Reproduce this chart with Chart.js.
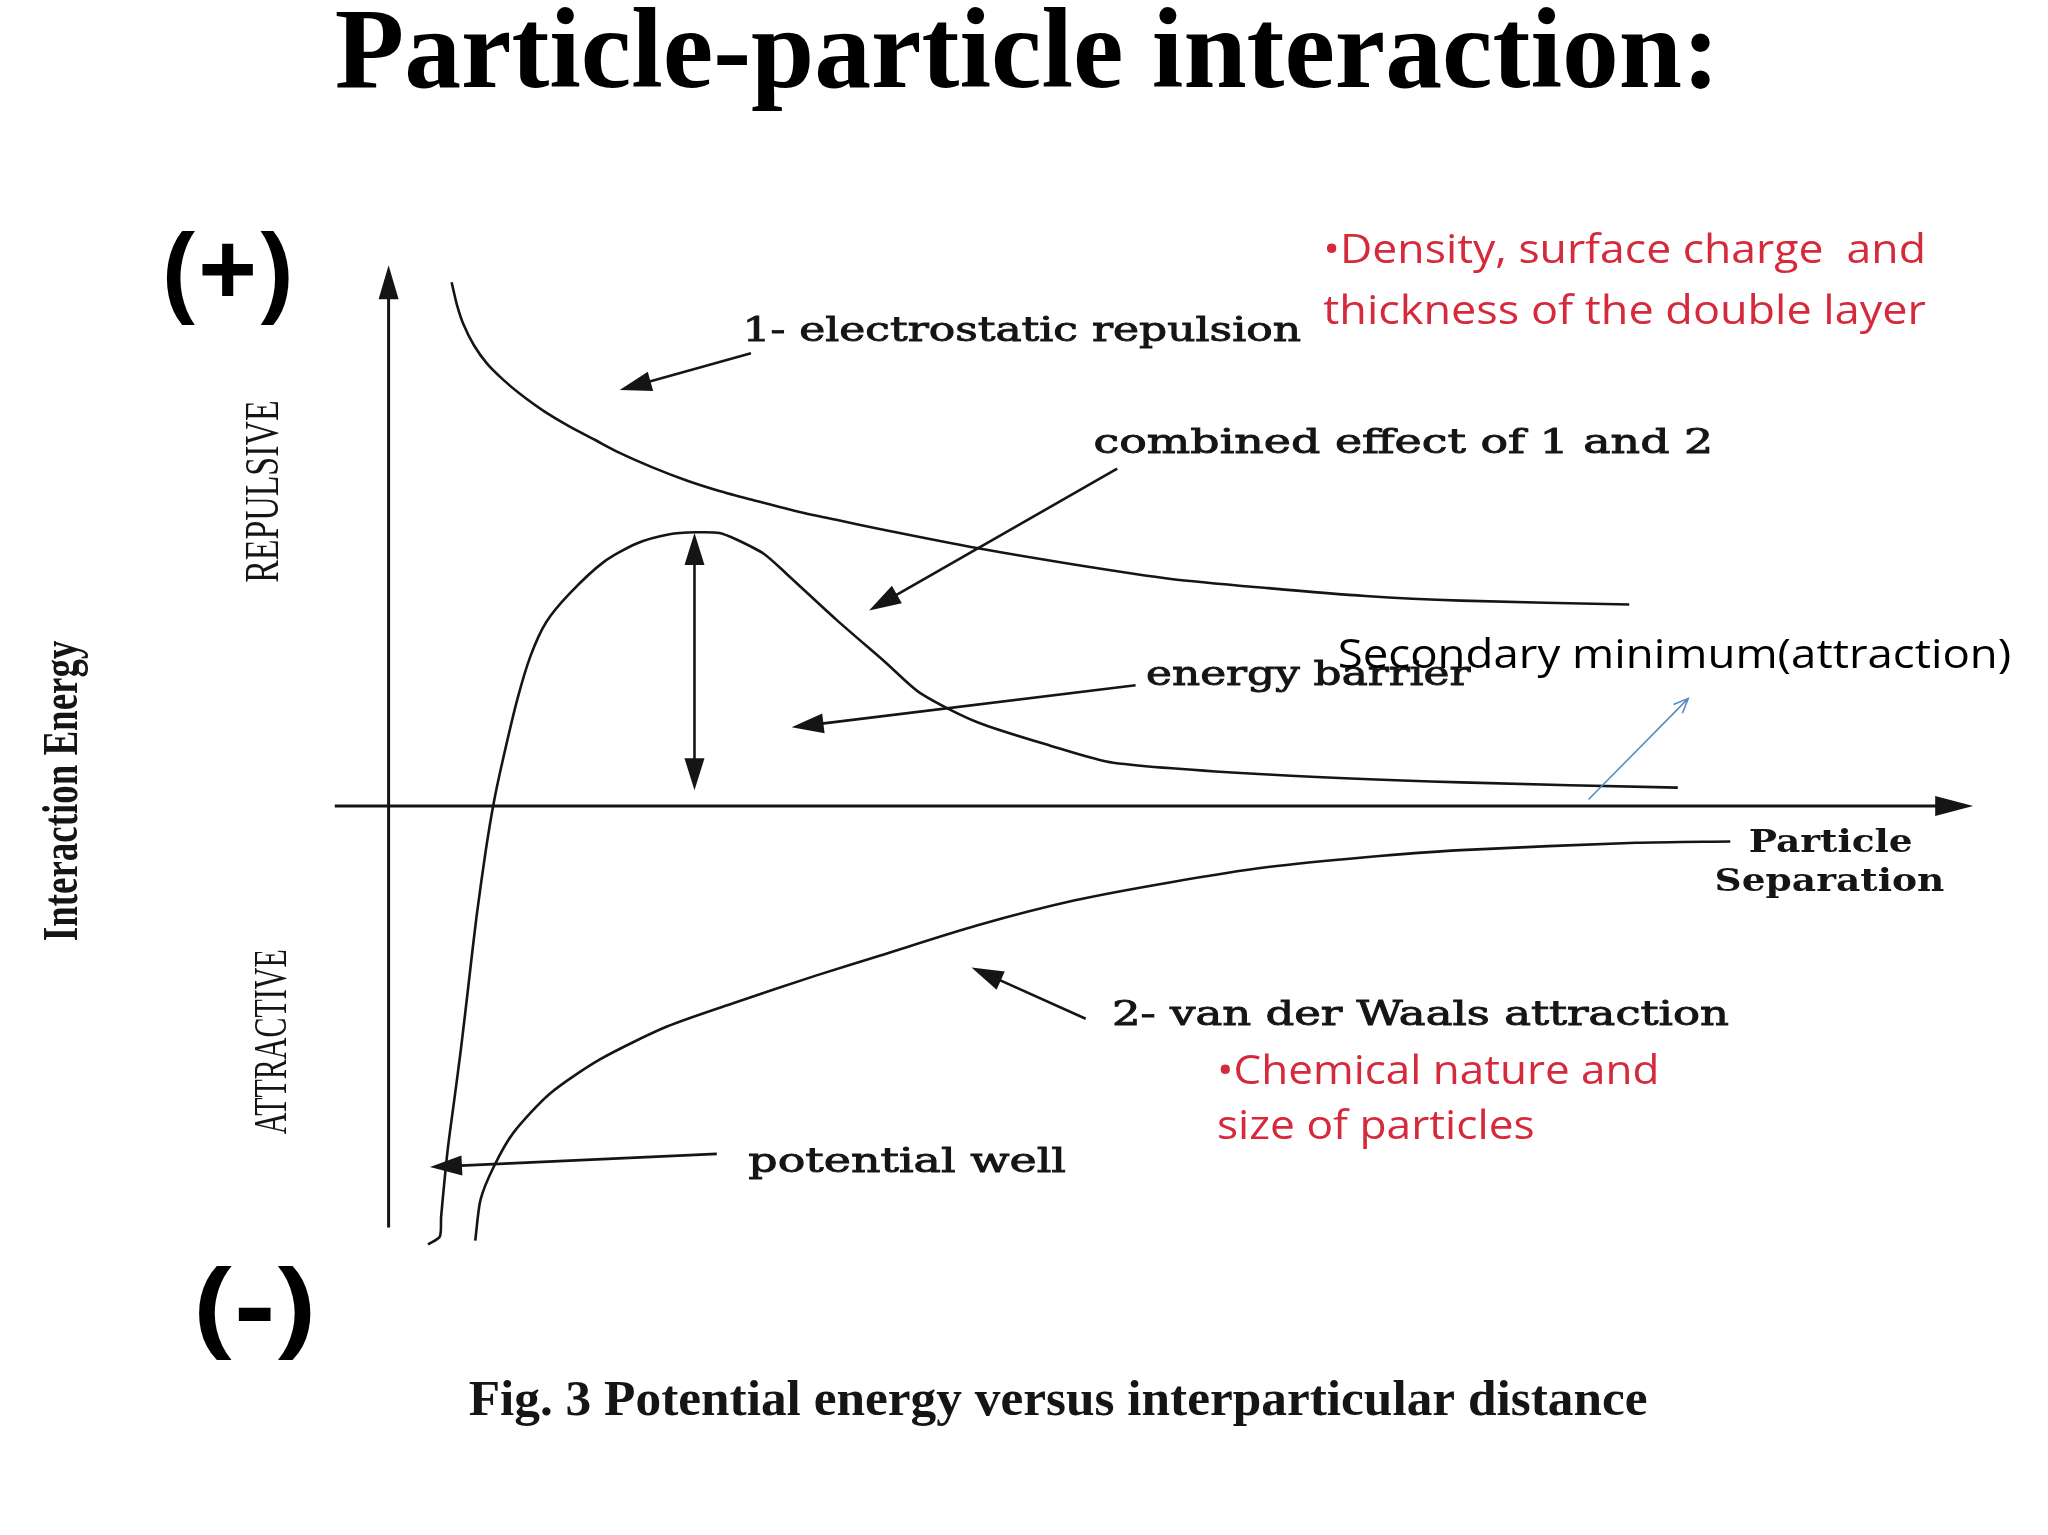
<!DOCTYPE html>
<html>
<head>
<meta charset="utf-8">
<title>Particle-particle interaction</title>
<script src="https://cdn.jsdelivr.net/npm/chart.js@4.4.1/dist/chart.umd.min.js"></script>
<style>
  html, body { margin: 0; padding: 0; background: #fff; }
  #wrap { width: 2048px; height: 1535px; position: relative; }
</style>
</head>
<body>
<div id="wrap"><canvas id="energyChart"></canvas></div>
<script>
'use strict';

// particle separation / interaction energy, arbitrary units (origin where the axes cross)
const sepRepulsion = [0.48, 0.52, 0.57, 0.65, 0.75, 0.87, 1.00, 1.18, 1.38, 1.57, 1.76, 2.01, 2.27, 2.52, 2.78, 3.09, 3.41,
  3.74, 4.48, 5.22, 5.96, 6.70, 7.44, 8.17, 9.45];
const energyRepulsion = [3.99, 3.82, 3.67, 3.51, 3.37, 3.25, 3.14, 3.01, 2.89, 2.79, 2.69, 2.58, 2.48, 2.40, 2.33, 2.25, 2.18,
  2.11, 1.965, 1.84, 1.73, 1.66, 1.60, 1.565, 1.535];

const sepCombined = [0.30, 0.39, 0.40, 0.45, 0.50, 0.55, 0.61, 0.67, 0.74, 0.80, 0.87, 0.98, 1.08, 1.20, 1.38, 1.64, 1.89,
  2.14, 2.34, 2.52, 2.65, 2.86, 3.03, 3.41, 3.79, 4.05, 4.48, 5.04, 5.52, 6.70, 8.17, 9.82];
const energyCombined = [-3.34, -3.28, -3.13, -2.62, -2.24, -1.86, -1.35, -0.84, -0.34, 0.02, 0.35, 0.81, 1.14, 1.40, 1.62, 1.86, 2.00,
  2.07, 2.085, 2.08, 2.03, 1.92, 1.77, 1.42, 1.09, 0.86, 0.64, 0.46, 0.33, 0.24, 0.18, 0.14];

const sepVdw = [0.66, 0.70, 0.80, 0.95, 1.23, 1.61, 2.12, 2.63, 3.26, 3.74, 4.48, 5.22, 5.96, 6.70, 7.44, 8.17, 9.50, 10.22];
const energyVdw = [-3.31, -3.00, -2.75, -2.49, -2.19, -1.93, -1.68, -1.50, -1.29, -1.14, -0.91, -0.72, -0.58, -0.465, -0.39, -0.336, -0.28, -0.27];

// axis extents (the arrow tips)
const xAxisRange = [-0.41, 12.07];
const yAxisRange = [-3.21, 4.12];

// the barrier height marker
const barrierSep = 2.33;
const barrierRange = [0.12, 2.08];

const inkColor = '#151515';
const noteRed = '#d42a3c';
const serif = '"DejaVu Serif", serif';
const times = '"Liberation Serif", "Times New Roman", serif';
const sans = '"Open Sans", "Noto Sans", sans-serif';

function zip(xs, ys) {
  return xs.map((x, i) => ({x: x, y: ys[i]}));
}

// leader arrows: tail -> head, in data units
const leaders = [
  {from: [2.76, 3.45], to: [1.76, 3.17]},
  {from: [5.55, 2.57], to: [3.66, 1.49]},
  {from: [5.69, 0.92], to: [3.07, 0.60]},
  {from: [5.31, -1.62], to: [4.44, -1.23]},
  {from: [2.50, -2.65], to: [0.315, -2.75]},
];
const pointer = {from: [9.14, 0.05], to: [9.90, 0.82]};

// text: left/right edge and baseline in data units
const labels = [
  {text: 'Particle-particle interaction:', x0: -0.41, x1: 10.14, y: 5.48, font: 'bold 114px ' + times, color: '#000'},
  {text: '(+)', x0: -1.72, x1: -0.73, y: 3.79, font: 'bold 107px ' + sans, color: '#000'},
  {text: '(-)', x0: -1.48, x1: -0.56, y: -4.09, font: 'bold 107px ' + sans, color: '#000'},
  {text: '1- electrostatic repulsion', x0: 2.695, x1: 6.95, y: 3.54, font: '33px ' + serif, color: inkColor, stroke: 0.9},
  {text: '\u2022Density, surface charge  and', x0: 7.12, x1: 11.71, y: 4.14, font: '41px ' + sans, color: noteRed},
  {text: 'thickness of the double layer', x0: 7.12, x1: 11.71, y: 3.67, font: '41px ' + sans, color: noteRed},
  {text: 'combined effect of 1 and 2', x0: 5.37, x1: 10.09, y: 2.69, font: '33px ' + serif, color: inkColor, stroke: 0.9},
  {text: 'energy barrier', x0: 5.77, x1: 8.24, y: 0.92, font: '33px ' + serif, color: inkColor, stroke: 0.9},
  {text: 'Secondary minimum(attraction)', x0: 7.23, x1: 12.36, y: 1.05, font: '41px ' + sans, color: '#000'},
  {text: 'Particle', x0: 10.36, x1: 11.61, y: -0.35, font: 'bold 32px ' + serif, color: inkColor},
  {text: 'Separation', x0: 10.10, x1: 11.85, y: -0.65, font: 'bold 32px ' + serif, color: inkColor},
  {text: '2- van der Waals attraction', x0: 5.51, x1: 10.21, y: -1.67, font: '33px ' + serif, color: inkColor, stroke: 0.9},
  {text: '\u2022Chemical nature and', x0: 6.31, x1: 9.68, y: -2.12, font: '41px ' + sans, color: noteRed},
  {text: 'size of particles', x0: 6.31, x1: 8.73, y: -2.54, font: '41px ' + sans, color: noteRed},
  {text: 'potential well', x0: 2.74, x1: 5.16, y: -2.785, font: '33px ' + serif, color: inkColor, stroke: 0.9},
  {text: 'Fig. 3 Potential energy versus interparticular distance', x0: 0.61, x1: 9.59, y: -4.64, font: 'bold 50px ' + times, color: inkColor},
];

// rotated text: baseline x, bottom/top along y
const sideLabels = [
  {text: 'REPULSIVE', x: -0.84, y0: 1.70, y1: 3.09, font: '48px ' + times},
  {text: 'ATTRACTIVE', x: -0.78, y0: -2.50, y1: -1.09, font: '46px ' + times},
  {text: 'Interaction Energy', x: -2.37, y0: -1.03, y1: 1.26, font: 'bold 50px ' + times},
];

function arrowHead(ctx, x1, y1, x2, y2, len, half) {
  const a = Math.atan2(y2 - y1, x2 - x1);
  ctx.beginPath();
  ctx.moveTo(x2, y2);
  ctx.lineTo(x2 - len * Math.cos(a) + half * Math.sin(a), y2 - len * Math.sin(a) - half * Math.cos(a));
  ctx.lineTo(x2 - len * Math.cos(a) - half * Math.sin(a), y2 - len * Math.sin(a) + half * Math.cos(a));
  ctx.closePath();
  ctx.fill();
}

function fitText(ctx, t, left, right, baseline) {
  ctx.font = t.font;
  const w = ctx.measureText(t.text).width;
  ctx.save();
  ctx.translate(left, baseline);
  ctx.scale((right - left) / w, 1);
  ctx.fillStyle = t.color;
  ctx.textBaseline = 'alphabetic';
  ctx.fillText(t.text, 0, 0);
  if (t.stroke) {
    ctx.strokeStyle = t.color;
    ctx.lineWidth = t.stroke;
    ctx.strokeText(t.text, 0, 0);
  }
  ctx.restore();
}

const diagramPlugin = {
  id: 'diagram',
  beforeDraw(chart) {
    const ctx = chart.ctx;
    ctx.save();
    ctx.fillStyle = '#fff';
    ctx.fillRect(0, 0, chart.width, chart.height);
    ctx.restore();
  },
  afterDatasetsDraw(chart) {
    const ctx = chart.ctx;
    const sx = chart.scales.x;
    const sy = chart.scales.y;
    const px = v => sx.getPixelForValue(v);
    const py = v => sy.getPixelForValue(v);

    ctx.save();
    ctx.fillStyle = inkColor;
    ctx.strokeStyle = inkColor;
    ctx.lineWidth = 2.6;

    // axis arrowheads
    arrowHead(ctx, px(0), py(yAxisRange[0]), px(0), py(yAxisRange[1]), 34, 10);
    arrowHead(ctx, px(xAxisRange[0]), py(0), px(xAxisRange[1]), py(0), 38, 10);

    // energy barrier double arrow
    ctx.beginPath();
    ctx.moveTo(px(barrierSep), py(barrierRange[0]) - 20);
    ctx.lineTo(px(barrierSep), py(barrierRange[1]) + 20);
    ctx.stroke();
    arrowHead(ctx, px(barrierSep), py(barrierRange[0]), px(barrierSep), py(barrierRange[1]), 32, 10);
    arrowHead(ctx, px(barrierSep), py(barrierRange[1]), px(barrierSep), py(barrierRange[0]), 32, 10);

    // leaders
    leaders.forEach(l => {
      const x1 = px(l.from[0]), y1 = py(l.from[1]);
      const x2 = px(l.to[0]), y2 = py(l.to[1]);
      const a = Math.atan2(y2 - y1, x2 - x1);
      ctx.beginPath();
      ctx.moveTo(x1, y1);
      ctx.lineTo(x2 - 20 * Math.cos(a), y2 - 20 * Math.sin(a));
      ctx.stroke();
      arrowHead(ctx, x1, y1, x2, y2, 32, 10);
    });

    // thin blue pointer to the secondary minimum
    const bx1 = px(pointer.from[0]), by1 = py(pointer.from[1]);
    const bx2 = px(pointer.to[0]), by2 = py(pointer.to[1]);
    const ba = Math.atan2(by2 - by1, bx2 - bx1);
    ctx.strokeStyle = '#5b8bbd';
    ctx.lineWidth = 1.6;
    ctx.beginPath();
    ctx.moveTo(bx1, by1);
    ctx.lineTo(bx2, by2);
    ctx.moveTo(bx2 - 16 * Math.cos(ba - 0.4), by2 - 16 * Math.sin(ba - 0.4));
    ctx.lineTo(bx2, by2);
    ctx.lineTo(bx2 - 16 * Math.cos(ba + 0.4), by2 - 16 * Math.sin(ba + 0.4));
    ctx.stroke();

    labels.forEach(t => fitText(ctx, t, px(t.x0), px(t.x1), py(t.y)));

    sideLabels.forEach(t => {
      ctx.font = t.font;
      const w = ctx.measureText(t.text).width;
      const len = py(t.y0) - py(t.y1);
      ctx.save();
      ctx.translate(px(t.x), py(t.y0));
      ctx.rotate(-Math.PI / 2);
      ctx.scale(len / w, 1);
      ctx.fillStyle = inkColor;
      ctx.fillText(t.text, 0, 0);
      ctx.restore();
    });
    ctx.restore();
  },
};

const curveStyle = {
  borderColor: inkColor,
  borderWidth: 2.6,
  pointRadius: 0,
  fill: false,
  tension: 0.25,
};
const axisStyle = {
  borderColor: inkColor,
  borderWidth: 3,
  pointRadius: 0,
  fill: false,
  tension: 0,
};

new Chart(document.getElementById('energyChart'), {
  type: 'line',
  data: {
    datasets: [
      {...axisStyle, label: 'energy axis', data: zip([0, 0], [yAxisRange[0], yAxisRange[1] - 0.2])},
      {...axisStyle, label: 'separation axis', data: zip([xAxisRange[0], xAxisRange[1] - 0.2], [0, 0])},
      {...curveStyle, label: '1- electrostatic repulsion', data: zip(sepRepulsion, energyRepulsion)},
      {...curveStyle, label: 'combined effect of 1 and 2', data: zip(sepCombined, energyCombined)},
      {...curveStyle, label: '2- van der Waals attraction', data: zip(sepVdw, energyVdw)},
    ],
  },
  options: {
    responsive: true,
    maintainAspectRatio: false,
    animation: false,
    layout: {padding: 0},
    scales: {
      x: {type: 'linear', min: -2.96, max: 12.64, display: false},
      y: {type: 'linear', min: -5.553, max: 6.14, display: false},
    },
    plugins: {
      legend: {display: false},
      tooltip: {enabled: false},
      title: {display: false},
    },
  },
  plugins: [diagramPlugin],
});
</script>
</body>
</html>
